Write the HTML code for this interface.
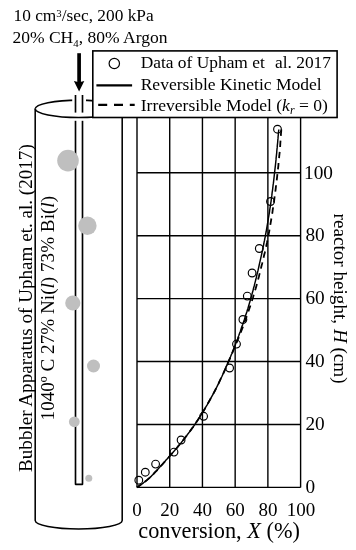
<!DOCTYPE html>
<html lang="en"><head><meta charset="utf-8"><title>Bubbler apparatus and conversion plot</title>
<style>html,body{margin:0;padding:0;background:#fff}body{width:356px;height:550px;overflow:hidden}svg{display:block}text{font-family:"Liberation Serif","Times New Roman",serif;fill:#000}</style>
</head><body>
<svg width="356" height="550" viewBox="0 0 356 550">
<rect width="356" height="550" fill="#fff"/>
<g fill="none" stroke="#000" stroke-width="1.55">
<path d="M35.2 108.8 A43.5 8.7 0 0 1 122.2 108.8"/>
<path d="M35.2 108.8 V520.5 A43.5 8.5 0 0 0 122.2 520.5 V108.8"/>
</g>
<rect x="72.2" y="95" width="13.8" height="11" fill="#fff"/>
<path d="M75.5 95 V484.3 H82.5 V95" fill="#fff" stroke="#000" stroke-width="1.65" stroke-linejoin="round"/>
<rect x="73.2" y="112.6" width="11.6" height="8.2" fill="#fff"/>
<path d="M35.2 108.8 A43.5 8.7 0 0 0 122.2 108.8" fill="none" stroke="#000" stroke-width="1.55"/>
<circle cx="68" cy="160.6" r="10.8" fill="#bfbfbf"/>
<circle cx="87.4" cy="225.7" r="9.2" fill="#bfbfbf"/>
<circle cx="72.8" cy="303" r="7.6" fill="#bfbfbf"/>
<circle cx="93.5" cy="366" r="6.5" fill="#bfbfbf"/>
<circle cx="74.3" cy="421.8" r="5.4" fill="#bfbfbf"/>
<circle cx="88.8" cy="478.2" r="3.5" fill="#bfbfbf"/>
<path d="M79.1 53.2 V83" stroke="#000" stroke-width="3.7" fill="none"/>
<path d="M73.9 81 L79.1 82.2 L84.3 81 L79.1 91.5 Z" fill="#000"/>
<g stroke="#000" stroke-width="1.4" fill="none">
<path d="M137.00 117.50 V487.40"/>
<path d="M169.72 117.50 V487.40"/>
<path d="M202.44 117.50 V487.40"/>
<path d="M235.16 117.50 V487.40"/>
<path d="M267.88 117.50 V487.40"/>
<path d="M300.60 117.50 V487.40"/>
<path d="M137.00 487.40 H300.60"/>
<path d="M137.00 424.48 H300.60"/>
<path d="M137.00 361.56 H300.60"/>
<path d="M137.00 298.64 H300.60"/>
<path d="M137.00 235.72 H300.60"/>
<path d="M137.00 172.80 H300.60"/>
</g>
<polyline fill="none" stroke="#000" stroke-width="1.45" stroke-linejoin="round" points="137.0,487.4 139.3,485.8 141.4,484.3 143.5,482.8 145.5,481.2 147.5,479.6 149.5,477.9 151.4,476.1 153.3,474.2 155.1,472.2 157.0,470.3 158.7,468.3 160.5,466.3 162.3,464.4 164.0,462.5 165.6,460.6 167.3,458.8 168.9,457.0 170.5,455.2 172.1,453.4 173.7,451.6 175.2,449.8 176.8,448.0 178.2,446.2 179.7,444.5 181.2,442.7 182.6,440.9 184.0,439.1 185.4,437.3 186.8,435.5 188.1,433.7 189.5,431.9 190.8,430.1 192.1,428.3 193.4,426.6 194.6,424.8 195.8,423.0 197.0,421.2 198.2,419.4 199.4,417.6 200.5,415.8 201.6,414.0 202.7,412.2 203.8,410.5 204.9,408.7 205.9,406.9 207.0,405.1 208.0,403.3 209.0,401.5 210.0,399.7 211.0,397.9 212.0,396.1 213.0,394.3 213.9,392.6 214.9,390.8 215.8,389.0 216.7,387.2 217.6,385.4 218.5,383.6 219.3,381.8 220.2,380.0 221.0,378.2 221.9,376.5 222.7,374.7 223.5,372.9 224.3,371.1 225.1,369.3 225.9,367.5 226.7,365.7 227.4,363.9 228.2,362.1 228.9,360.3 229.7,358.6 230.5,356.8 231.2,355.0 232.0,353.2 232.7,351.4 233.4,349.6 234.1,347.8 234.8,346.0 235.5,344.2 236.2,342.5 236.9,340.7 237.6,338.9 238.2,337.1 238.9,335.3 239.5,333.5 240.2,331.7 240.8,329.9 241.4,328.1 242.0,326.3 242.7,324.6 243.3,322.8 243.9,321.0 244.5,319.2 245.0,317.4 245.6,315.6 246.2,313.8 246.8,312.0 247.3,310.2 247.9,308.4 248.4,306.7 248.9,304.9 249.5,303.1 250.0,301.3 250.5,299.5 251.0,297.7 251.5,295.9 252.0,294.1 252.5,292.3 253.0,290.6 253.4,288.8 253.9,287.0 254.4,285.2 254.8,283.4 255.3,281.6 255.7,279.8 256.2,278.0 256.6,276.2 257.0,274.4 257.4,272.7 257.9,270.9 258.3,269.1 258.7,267.3 259.1,265.5 259.5,263.7 259.9,261.9 260.3,260.1 260.7,258.3 261.1,256.6 261.5,254.8 261.9,253.0 262.3,251.2 262.7,249.4 263.0,247.6 263.4,245.8 263.8,244.0 264.1,242.2 264.5,240.4 264.8,238.7 265.2,236.9 265.5,235.1 265.8,233.3 266.2,231.5 266.5,229.7 266.8,227.9 267.1,226.1 267.4,224.3 267.7,222.6 268.0,220.8 268.3,219.0 268.6,217.2 268.9,215.4 269.2,213.6 269.5,211.8 269.7,210.0 270.0,208.2 270.3,206.4 270.6,204.7 270.8,202.9 271.1,201.1 271.3,199.3 271.5,197.5 271.8,195.7 272.0,193.9 272.2,192.1 272.5,190.3 272.7,188.6 272.9,186.8 273.1,185.0 273.4,183.2 273.6,181.4 273.8,179.6 274.0,177.8 274.2,176.0 274.4,174.2 274.6,172.4 274.8,170.7 275.0,168.9 275.2,167.1 275.4,165.3 275.6,163.5 275.8,161.7 276.0,159.9 276.1,158.1 276.3,156.3 276.5,154.6 276.7,152.8 276.8,151.0 277.0,149.2 277.2,147.4 277.3,145.6 277.5,143.8 277.7,142.0 277.8,140.2 278.0,138.4 278.1,136.7 278.3,134.9 278.5,133.1 278.6,131.3 278.8,129.5"/>
<polyline fill="none" stroke="#000" stroke-width="1.8" stroke-linejoin="round" stroke-dasharray="6.4 4.8" points="281.3,129.5 281.2,131.3 281.0,133.1 280.9,134.9 280.8,136.7 280.7,138.4 280.6,140.2 280.4,142.0 280.3,143.8 280.2,145.6 280.1,147.4 279.9,149.2 279.8,151.0 279.6,152.8 279.4,154.6 279.2,156.3 279.1,158.1 278.9,159.9 278.7,161.7 278.5,163.5 278.4,165.3 278.2,167.1 278.0,168.9 277.8,170.7 277.6,172.4 277.4,174.2 277.2,176.0 277.0,177.8 276.8,179.6 276.6,181.4 276.4,183.2 276.1,185.0 275.9,186.8 275.7,188.6 275.5,190.3 275.2,192.1 275.0,193.9 274.8,195.7 274.5,197.5 274.3,199.3 274.1,201.1 273.8,202.9 273.6,204.7 273.3,206.4 273.0,208.2 272.7,210.0 272.5,211.8 272.2,213.6 271.9,215.4 271.6,217.2 271.3,219.0 271.0,220.8 270.7,222.6 270.4,224.3 270.1,226.1 269.8,227.9 269.5,229.7 269.2,231.5 268.8,233.3 268.5,235.1 268.2,236.9 267.8,238.7 267.4,240.4 267.1,242.2 266.7,244.0 266.3,245.8 265.9,247.6 265.5,249.4 265.1,251.2 264.7,253.0 264.2,254.8 263.8,256.6 263.4,258.3 263.0,260.1 262.5,261.9 262.1,263.7 261.6,265.5 261.2,267.3 260.8,269.1 260.3,270.9 259.9,272.7 259.4,274.4 259.0,276.2 258.5,278.0 258.0,279.8 257.6,281.6 257.1,283.4 256.6,285.2 256.1,287.0 255.6,288.8 255.0,290.6 254.5,292.3 254.0,294.1 253.4,295.9 252.9,297.7 252.3,299.5 251.8,301.3 251.2,303.1 250.6,304.9 250.0,306.7 249.4,308.4 248.8,310.2 248.2,312.0 247.6,313.8 247.0,315.6 246.3,317.4 245.7,319.2 245.0,321.0 244.4,322.8 243.7,324.6 243.1,326.3 242.4,328.1 241.7,329.9 241.0,331.7 240.3,333.5 239.6,335.3 238.9,337.1 238.1,338.9 237.4,340.7 236.7,342.5 235.9,344.2 235.1,346.0 234.4,347.8 233.7,349.6 232.9,351.4 232.2,353.2 231.4,355.0 230.7,356.8 229.9,358.6 229.1,360.3 228.3,362.1 227.5,363.9 226.8,365.7 226.0,367.5 225.2,369.3 224.4,371.1 223.6,372.9 222.7,374.7 221.9,376.5 221.0,378.2 220.2,380.0 219.3,381.8 218.5,383.6 217.6,385.4 216.7,387.2 215.8,389.0 214.9,390.8 213.9,392.6 213.0,394.3 212.0,396.1 211.0,397.9 210.0,399.7 209.0,401.5 208.0,403.3 207.0,405.1 205.9,406.9 204.9,408.7 203.8,410.5 202.7,412.2 201.6,414.0 200.5,415.8 199.4,417.6 198.2,419.4 197.0,421.2 195.8,423.0 194.6,424.8 193.4,426.6 192.1,428.3 190.8,430.1 189.5,431.9 188.1,433.7 186.8,435.5 185.4,437.3 184.0,439.1 182.6,440.9 181.2,442.7 179.7,444.5 178.2,446.2 176.8,448.0 175.2,449.8 173.7,451.6 172.1,453.4 170.5,455.2 168.9,457.0 167.3,458.8 165.6,460.6 164.0,462.5 162.3,464.4 160.5,466.3 158.7,468.3 157.0,470.3 155.1,472.2 153.3,474.2 151.4,476.1 149.5,477.9 147.5,479.6 145.5,481.2 143.5,482.8 141.4,484.3 139.3,485.8 137.0,487.4"/>
<circle cx="138.8" cy="480.2" r="3.85" fill="none" stroke="#000" stroke-width="1.15"/>
<circle cx="145.3" cy="472.2" r="3.85" fill="none" stroke="#000" stroke-width="1.15"/>
<circle cx="155.6" cy="464.1" r="3.85" fill="none" stroke="#000" stroke-width="1.15"/>
<circle cx="174" cy="452.1" r="3.85" fill="none" stroke="#000" stroke-width="1.15"/>
<circle cx="181.1" cy="440" r="3.85" fill="none" stroke="#000" stroke-width="1.15"/>
<circle cx="203.6" cy="416.3" r="3.85" fill="none" stroke="#000" stroke-width="1.15"/>
<circle cx="229.6" cy="368" r="3.85" fill="none" stroke="#000" stroke-width="1.15"/>
<circle cx="236.5" cy="344.1" r="3.85" fill="none" stroke="#000" stroke-width="1.15"/>
<circle cx="242.9" cy="319.5" r="3.85" fill="none" stroke="#000" stroke-width="1.15"/>
<circle cx="247.3" cy="296.1" r="3.85" fill="none" stroke="#000" stroke-width="1.15"/>
<circle cx="252.1" cy="273" r="3.85" fill="none" stroke="#000" stroke-width="1.15"/>
<circle cx="259.3" cy="248.5" r="3.85" fill="none" stroke="#000" stroke-width="1.15"/>
<circle cx="270.5" cy="201.5" r="3.85" fill="none" stroke="#000" stroke-width="1.15"/>
<circle cx="277.5" cy="129.2" r="3.85" fill="none" stroke="#000" stroke-width="1.15"/>
<rect x="92.8" y="50.9" width="244.3" height="66.6" fill="#fff" stroke="#000" stroke-width="1.6"/>
<circle cx="114.3" cy="63.5" r="5.2" fill="none" stroke="#000" stroke-width="1.2"/>
<path d="M96.4 85.4 H132.1" stroke="#000" stroke-width="2.3"/>
<path d="M98.2 104.9 H134.7" stroke="#000" stroke-width="2.3" stroke-dasharray="9 6.8"/>
<text x="140.7" y="67.9" font-size="17.4" xml:space="preserve">Data of Upham et <tspan dx="5.8">al. 2017</tspan></text>
<text x="140.7" y="89.85" font-size="17.53">Reversible Kinetic Model</text>
<text x="140.7" y="110.7" font-size="17.57">Irreversible Model (<tspan font-style="italic">k</tspan><tspan font-style="italic" font-size="11.8" dy="3.6">r</tspan><tspan dy="-3.6"> = 0)</tspan></text>
<text x="13.5" y="21.3" font-size="17.34">10 cm<tspan font-size="10.8" dy="-4.6">3</tspan><tspan dy="4.6">/sec, 200 kPa</tspan></text>
<text x="12.4" y="43.0" font-size="17.54">20% CH<tspan font-size="10.8" dy="3.9">4</tspan><tspan dy="-3.9">, 80% Argon</tspan></text>
<text x="137.0" y="516.2" font-size="19" text-anchor="middle">0</text>
<text x="169.7" y="516.2" font-size="19" text-anchor="middle">20</text>
<text x="202.4" y="516.2" font-size="19" text-anchor="middle">40</text>
<text x="235.2" y="516.2" font-size="19" text-anchor="middle">60</text>
<text x="267.9" y="516.2" font-size="19" text-anchor="middle">80</text>
<text x="300.9" y="516.2" font-size="19" text-anchor="middle">100</text>
<text x="305.4" y="493.1" font-size="19.3">0</text>
<text x="305.4" y="430.2" font-size="19.3">20</text>
<text x="305.4" y="367.3" font-size="19.3">40</text>
<text x="305.4" y="304.3" font-size="19.3">60</text>
<text x="305.4" y="241.4" font-size="19.3">80</text>
<text x="304.0" y="178.5" font-size="19.3">100</text>
<text x="219.1" y="538.4" font-size="22.3" text-anchor="middle">conversion, <tspan font-style="italic">X</tspan> (%)</text>
<text transform="translate(333.5,298.6) rotate(90)" font-size="19.15" text-anchor="middle">reactor height, <tspan font-style="italic">H</tspan> (cm)</text>
<text transform="translate(31.8,308.1) rotate(-90)" font-size="19.1" text-anchor="middle">Bubbler Apparatus of Upham et. al. (2017)</text>
<text transform="translate(54.2,308.2) rotate(-90)" font-size="19.15" text-anchor="middle">1040º C 27% Ni(<tspan font-style="italic">l</tspan>) 73% Bi(<tspan font-style="italic">l</tspan>)</text>
</svg></body></html>
